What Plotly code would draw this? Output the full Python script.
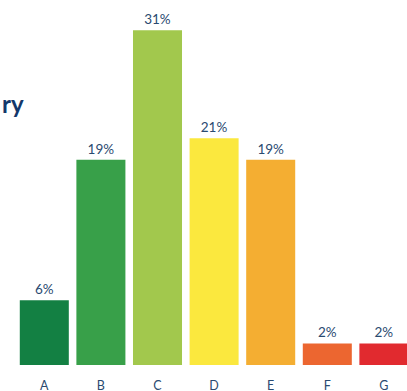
import plotly.graph_objects as go

categories = ["A", "B", "C", "D", "E", "F", "G"]
values = [6, 19, 31, 21, 19, 2, 2]
labels = ["6%", "19%", "31%", "21%", "19%", "2%", "2%"]
colors = ["#138043", "#38a049", "#a2c84d", "#fbe83e", "#f4ae32", "#ec6630", "#e12a2f"]

text_color = "#2a4a70"

fig = go.Figure(go.Bar(
    x=categories, y=values, text=labels, textposition="outside",
    marker=dict(color=colors, line=dict(width=0)),
    textfont=dict(size=13.5, color=text_color, family="Lato, Open Sans, sans-serif"),
    cliponaxis=False,
))

fig.update_layout(
    width=407, height=391,
    margin=dict(l=16, r=0, t=0, b=26),
    paper_bgcolor="white", plot_bgcolor="white",
    bargap=0.134,
    showlegend=False,
    font=dict(family="Lato, Open Sans, sans-serif", color=text_color),
    xaxis=dict(range=[-0.5, -0.5 + 391 / 56.6], showgrid=False, zeroline=False,
               showline=False, ticks="", tickfont=dict(size=12.5, color=text_color),
               ticklabelstandoff=11, automargin=False, fixedrange=True),
    yaxis=dict(range=[0, 33.8], visible=False, automargin=False, fixedrange=True),
    annotations=[dict(text="<b>ry</b>", xref="paper", yref="paper",
                      x=(0 - 16) / 391, y=1 - 103 / 365, xanchor="left", yanchor="middle",
                      showarrow=False, font=dict(size=24, color="#13386b",
                                                 family="Lato, Open Sans, sans-serif"))],
)

fig.write_html("out.html")
